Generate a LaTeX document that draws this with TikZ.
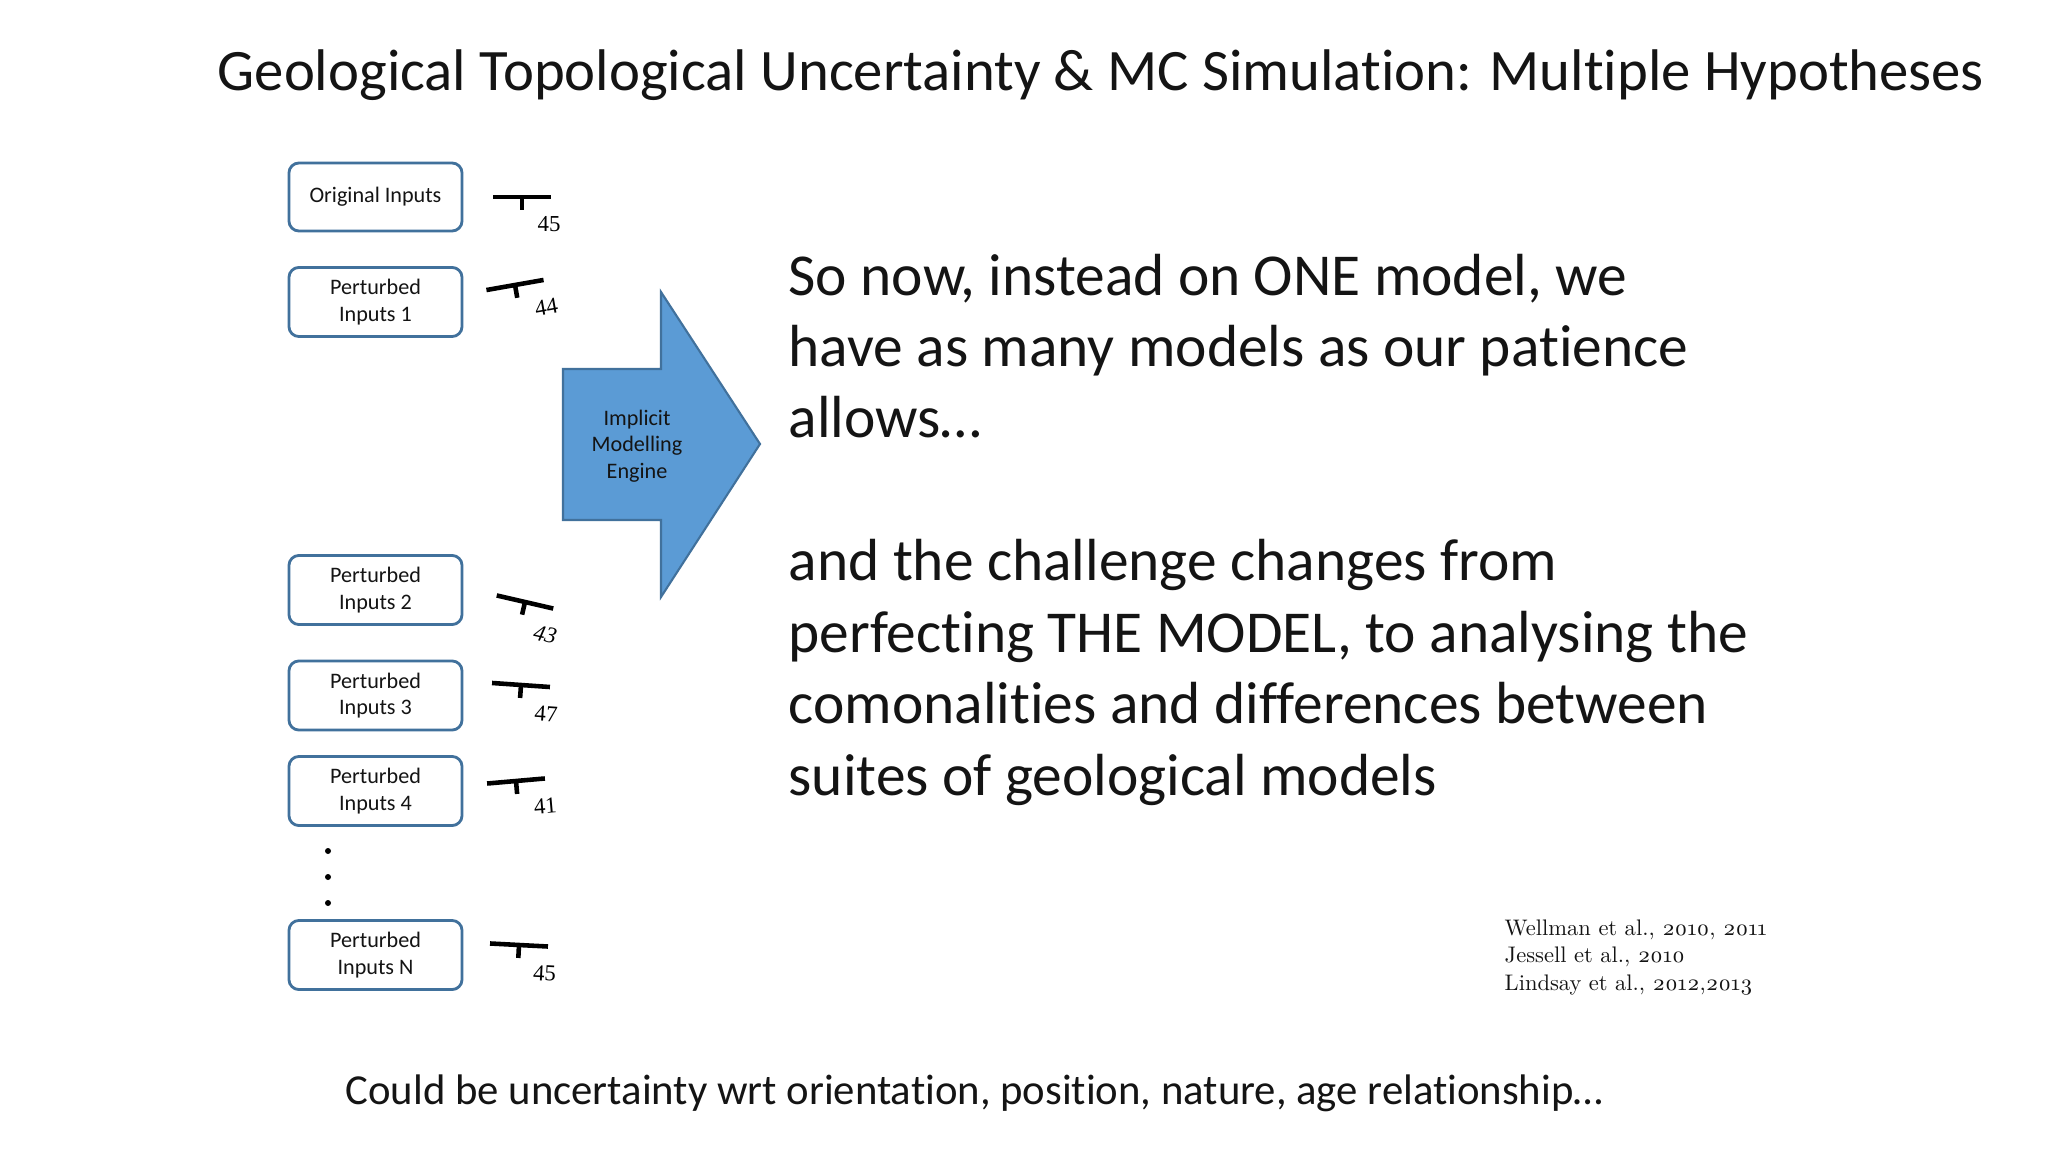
\documentclass[tikz,border=0pt]{standalone}
\usepackage{fontspec}
\setmainfont{Carlito}[Ligatures=NoCommon]
\newfontfamily\citefont{lmroman10-regular.otf}[Numbers=OldStyle]
\newfontfamily\dipfont{Liberation Serif}
\usetikzlibrary{positioning}

\definecolor{boxblue}{HTML}{41719C}
\definecolor{enginefill}{HTML}{5B9BD5}
\definecolor{inktext}{HTML}{141414}

\tikzstyle{inputbox} = [rectangle, rounded corners=0.1cm, minimum width=1.73cm, minimum height=0.68cm, align=center, draw=boxblue, line width=0.8pt, text=inktext, font=\fontsize{6.3}{7.6}\selectfont]
\tikzstyle{engine} = [fill=enginefill, draw=boxblue, line width=0.6pt]
\tikzstyle{enginetext} = [align=center, text=inktext, font=\fontsize{6.3}{7.6}\selectfont]
\tikzstyle{strike} = [line width=1.3pt, black]
\tikzstyle{diplabel} = [inner sep=0pt, font=\dipfont\fontsize{6.5}{7}\selectfont]
\tikzstyle{bigtext} = [align=left, anchor=base west, inner sep=0pt, text=inktext, font=\fontsize{16.9}{20.3}\selectfont]
\tikzstyle{dots} = [fill=black]

% strike and dip sign: name, centre x, centre y, angle, dip
\newcommand{\dipsign}[5]{%
  \begin{scope}[shift={(#2,#3)}, rotate=#4]
    \draw[strike] (-29,0) -- (29,0);
    \draw[strike] (0,0) -- (0,13);
    \node[diplabel, transform shape] (#1) at (27,27) {#5};
  \end{scope}}

\begin{document}
\begin{tikzpicture}[x=0.01cm, y=-0.01cm]
\useasboundingbox[fill=white] (0,0) rectangle (2048,1152);

% Title
\node (title) [anchor=base west, inner sep=0pt, text=inktext, font=\fontsize{16.7}{20}\selectfont] at (217,91) {Geological Topological Uncertainty \& MC Simulation: Multiple Hypotheses};

% Input boxes
\node (orig) [inputbox] at (375.5,197) {Original Inputs};
\node (pert1) [inputbox] at (375.5,302) {Perturbed\\Inputs 1};
\node (pert2) [inputbox] at (375.5,590) {Perturbed\\Inputs 2};
\node (pert3) [inputbox] at (375.5,695.5) {Perturbed\\Inputs 3};
\node (pert4) [inputbox] at (375.5,791) {Perturbed\\Inputs 4};
\node (pertN) [inputbox] at (375.5,955) {Perturbed\\Inputs N};

% Ellipsis dots
\foreach \y in {851,877,903}
  \fill[dots] (328,\y) circle (0.03cm);

% Strike and dip signs
\dipsign{dip0}{522}{197}{0}{45}
\dipsign{dip1}{515}{285}{10}{44}
\dipsign{dip2}{525}{602}{-13}{\textit{43}}
\dipsign{dip3}{521}{685}{-4}{47}
\dipsign{dip4}{516}{781}{5}{41}
\dipsign{dipN}{519}{945}{-3}{45}

% Engine arrow
\draw[engine] (563,369) -- (661,369) -- (661,292) -- (760,444) -- (661,597) -- (661,520) -- (563,520) -- cycle;
\node (engine) [enginetext] at (637,446) {Implicit\\Modelling\\Engine};

% Main text (base anchor sits on the last line)
\node (patience) [bigtext] at (788,438) {So now, instead on ONE model, we\\have as many models as our patience\\allows\dots};
\node (challenge) [bigtext] at (788,795) {and the challenge changes from\\perfecting THE MODEL, to analysing the\\comonalities and differences between\\suites of geological models};

% References
\node (refs) [align=left, anchor=base west, inner sep=0pt, text=inktext, font=\citefont\fontsize{6.4}{7.8}\selectfont] at (1504,990) {Wellman et al., 2010, 2011\\Jessell et al., 2010\\Lindsay et al., 2012,2013};

% Bottom line
\node (caveat) [anchor=base west, inner sep=0pt, text=inktext, font=\fontsize{12.15}{15}\selectfont] at (345,1104) {Could be uncertainty wrt orientation, position, nature, age relationship\dots};

\end{tikzpicture}
\end{document}
